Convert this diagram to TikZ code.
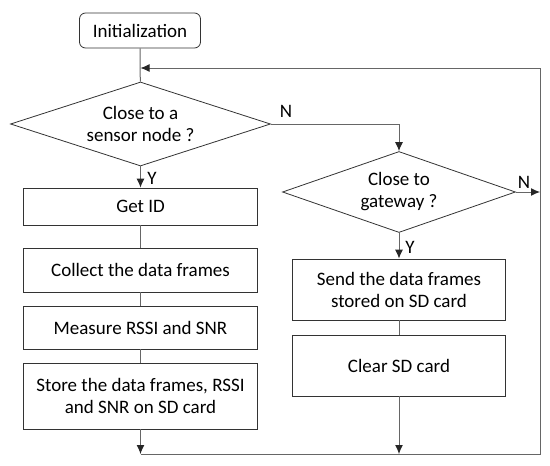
\documentclass[tikz,border=0pt]{standalone}
\usepackage{fontspec}
\setmainfont{Carlito}
\usepackage{tikz}
\usetikzlibrary{shapes.geometric,arrows.meta}

\begin{document}
\begin{tikzpicture}[x=1pt,y=-1pt,>={Latex[length=9pt,width=8pt,color=black!85]},
  every node/.style={font=\fontsize{19}{22}\selectfont},
  start/.style={draw=black!80,rounded corners=6pt,minimum width=121pt,minimum height=35pt,inner sep=2pt,thick},
  box/.style={draw=black!80,rectangle,minimum width=234pt,align=center,inner sep=2pt,thick},
  decision/.style={draw=black!80,diamond,aspect=3,align=center,inner sep=0pt,thick},
  link/.style={draw=black!60,line width=1pt}]

    \useasboundingbox (0,0) rectangle (550,466);

    % The chart
	\node [start] at (140,30.5) (init) {Initialization};
	\node [decision,minimum width=260pt,minimum height=84pt] at (140.5,124) (sensor) {Close to a\\sensor node ?};
	\node [box,minimum height=37pt] at (140.5,206.5) (getid) {Get ID};
	\node [box,minimum height=44pt] at (140.5,270) (collect) {Collect the data frames};
	\node [box,minimum height=43pt] at (140.5,327.5) (measure) {Measure RSSI and SNR};
	\node [box,minimum height=66pt] at (140.5,396) (store) {Store the data frames, RSSI\\and SNR on SD card};

	\node [decision,minimum width=233pt,minimum height=81pt] at (399,192) (gateway) {Close to\\gateway ?};
	\node [box,minimum width=213pt,minimum height=61pt] at (399,289.5) (send) {Send the data frames\\stored on SD card};
	\node [box,minimum width=213pt,minimum height=61pt] at (399,365.5) (clear) {Clear SD card};

	% Labels
	\node at (286,111) (nsensor) {N};
	\node at (152,178) (ysensor) {Y};
	\node at (524,182) (ngateway) {N};
	\node at (410,247) (ygateway) {Y};

	% Corners of the loop
	\coordinate (turn) at (399,124);
	\coordinate (bl) at (140.5,454);
	\coordinate (bm) at (399,454);
	\coordinate (br) at (540,454);
	\coordinate (tr) at (540,68);
	\coordinate (tl) at (140.5,68);
	\coordinate (ge) at (540,192);

	% Edges
	\path[link]
	(init) edge (sensor)
	(getid) edge (collect)
	(collect) edge (measure)
	(measure) edge (store)
	(send) edge (clear)
	;
	\path[link,->]
	(sensor) edge (getid)
	(store) edge (bl)
	(gateway) edge (send)
	(clear) edge (bm)
	;
	\draw[link,->] (gateway.east) -- (ge);
	\draw[link,->] (sensor.east) -- (turn) -- (gateway);
	\draw[link,->] (bl) -- (br) -- (tr) -- (tl);

\end{tikzpicture}
\end{document}
